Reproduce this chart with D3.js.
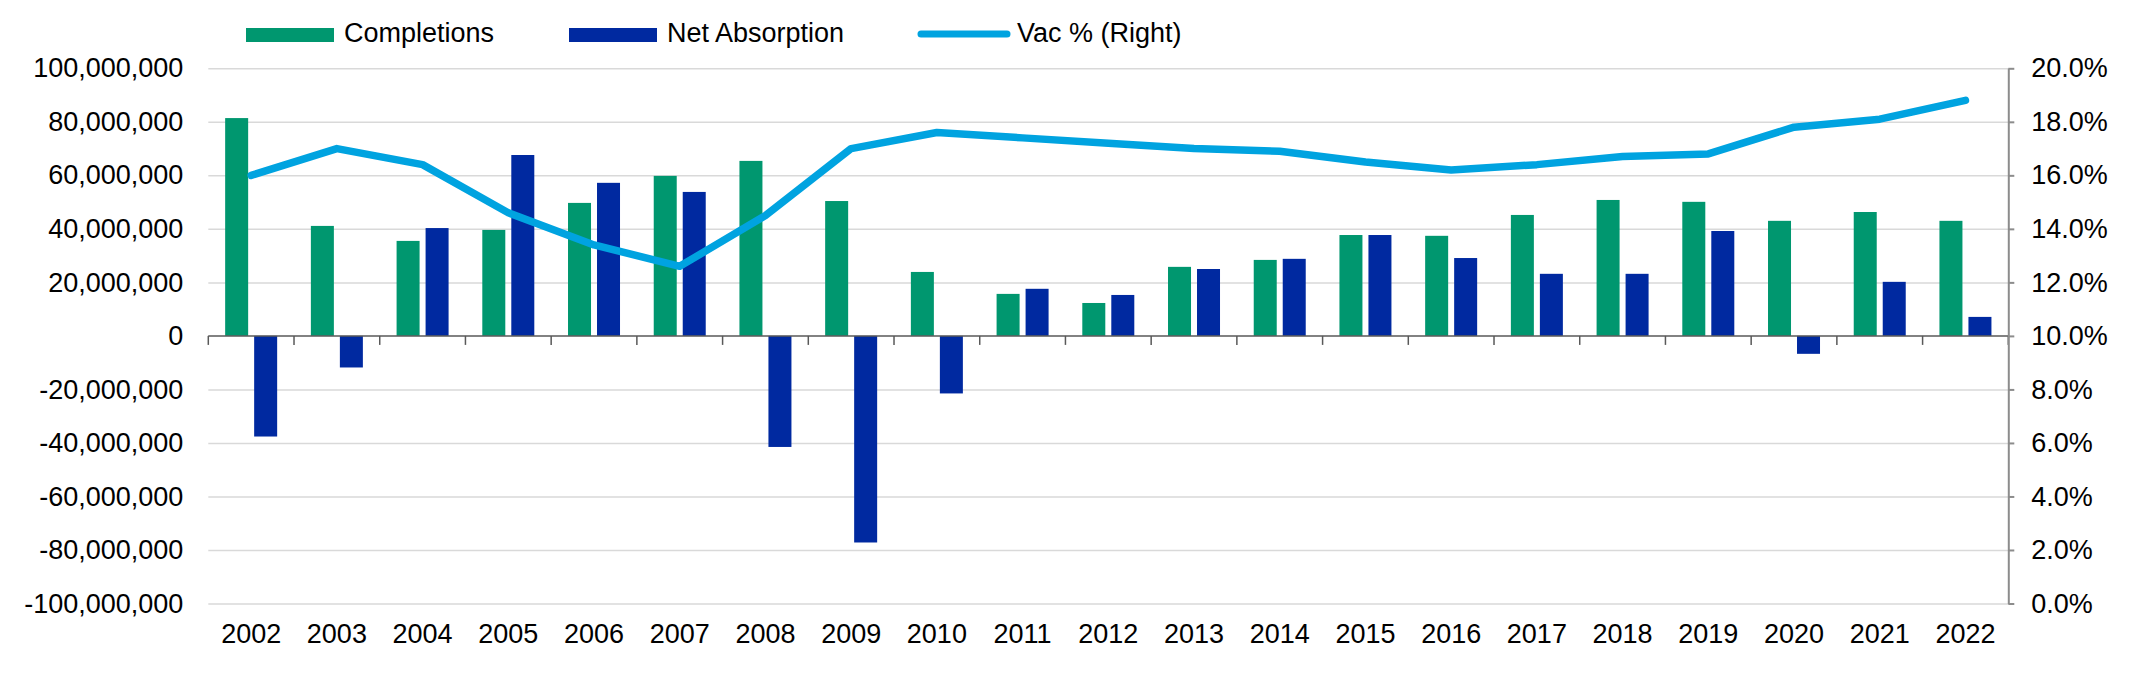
<!DOCTYPE html>
<html lang="en">
<head>
    <meta charset="UTF-8">
    <title>Completions, Net Absorption and Vacancy</title>
    <script src="https://cdn.jsdelivr.net/npm/d3@7"></script>
    <style>
        body { margin: 0; background: #fff; }
        text { font-family: "Liberation Sans", Arial, sans-serif; }
    </style>
</head>
<body>
<svg width="2145" height="673"></svg>
<script>
    const years = ["2002","2003","2004","2005","2006","2007","2008","2009","2010","2011","2012",
        "2013","2014","2015","2016","2017","2018","2019","2020","2021","2022"]
    const completions = [81400000, 41100000, 35500000, 39600000, 49700000, 59800000, 65400000,
        50400000, 23900000, 15700000, 12300000, 25800000, 28400000, 37700000, 37400000,
        45200000, 50800000, 50100000, 43000000, 46300000, 43000000]
    const netAbsorption = [-37600000, -11800000, 40300000, 67600000, 57200000, 53800000, -41500000,
        -77200000, -21500000, 17600000, 15300000, 25000000, 28800000, 37700000, 29100000,
        23200000, 23200000, 39200000, -6700000, 20200000, 7100000]
    const vacancy = [16.0, 17.0, 16.4, 14.6, 13.4, 12.6, 14.5, 17.0, 17.6, 17.4, 17.2,
        17.0, 16.9, 16.5, 16.2, 16.4, 16.7, 16.8, 17.8, 18.1, 18.8]
    const leftTicks = d3.range(-100000000, 100000001, 20000000)
    const rightTicks = d3.range(0, 20.01, 2)
    const seriesNames = ["Completions", "Net Absorption"]

    const colors = {"Completions": "#00976F", "Net Absorption": "#0029A0", "Vac % (Right)": "#00A3E0"}
    const fontSize = 27

    const plotLeft = 208.3, plotRight = 2008.3, plotTop = 68.3, plotBottom = 603.5

    const svg = d3.select("svg")

    const x0 = d3.scaleBand().domain(years).range([plotLeft, plotRight]).padding(0)
    const bw = x0.bandwidth()
    const x1 = d3.scaleBand().domain(seriesNames)
        .range([(bw - 52) / 2, (bw + 52) / 2])
        .paddingInner(6 / 29)

    const yL = d3.scaleLinear().domain([-100000000, 100000000]).range([plotBottom, plotTop])
    const yR = d3.scaleLinear().domain([0, 20]).range([plotBottom, plotTop])

    const fmt = d3.formatLocale({decimal: ".", thousands: ",", grouping: [3], currency: ["$", ""], minus: "-"}).format(",")

    // gridlines
    svg.append("g")
        .attr("transform", `translate(${plotLeft},0)`)
        .call(d3.axisLeft(yL).tickValues(leftTicks.filter(d => d !== 0)).tickSize(-(plotRight - plotLeft)).tickFormat(""))
        .call(g => g.select(".domain").remove())
        .selectAll("line").attr("stroke", "#d9d9d9").attr("stroke-width", 1.5)

    // left labels
    svg.append("g")
        .attr("transform", `translate(${plotLeft},0)`)
        .call(d3.axisLeft(yL).tickValues(leftTicks).tickSize(0).tickPadding(25).tickFormat(fmt))
        .call(g => g.select(".domain").remove())
        .selectAll("text").attr("font-size", fontSize).attr("fill", "#000")
        .attr("font-family", '"Liberation Sans", Arial, sans-serif')

    // bars
    const rows = years.map((y, i) => ({year: y, values: [
        {key: "Completions", value: completions[i]},
        {key: "Net Absorption", value: netAbsorption[i]}]}))

    svg.append("g").selectAll("g")
        .data(rows)
        .join("g")
        .attr("transform", d => `translate(${x0(d.year)},0)`)
        .selectAll("rect")
        .data(d => d.values)
        .join("rect")
        .attr("x", d => x1(d.key))
        .attr("width", x1.bandwidth())
        .attr("y", d => yL(Math.max(0, d.value)))
        .attr("height", d => Math.abs(yL(d.value) - yL(0)))
        .attr("fill", d => colors[d.key])

    // zero line with category ticks
    const zero = svg.append("g")
    zero.append("line")
        .attr("x1", plotLeft).attr("x2", plotRight)
        .attr("y1", yL(0)).attr("y2", yL(0))
        .attr("stroke", "#595959").attr("stroke-width", 1.5)
    zero.selectAll(".tk")
        .data(years.map(d => x0(d)).concat([plotRight]))
        .join("line")
        .attr("class", "tk")
        .attr("x1", d => d).attr("x2", d => d)
        .attr("y1", yL(0)).attr("y2", yL(0) + 9)
        .attr("stroke", "#595959").attr("stroke-width", 1.5)

    // year labels
    svg.append("g")
        .attr("transform", `translate(0,${plotBottom})`)
        .call(d3.axisBottom(x0).tickSize(0).tickPadding(20))
        .call(g => g.select(".domain").remove())
        .selectAll("text").attr("font-size", fontSize).attr("fill", "#000")
        .attr("font-family", '"Liberation Sans", Arial, sans-serif')

    // right axis
    svg.append("g")
        .attr("transform", `translate(${plotRight},0)`)
        .call(d3.axisRight(yR).tickValues(rightTicks).tickSize(6).tickSizeOuter(0).tickPadding(17)
            .tickFormat(d => d3.format(".1f")(d) + "%"))
        .call(g => g.selectAll("line, .domain").attr("stroke", "#8c8c8c").attr("stroke-width", 2))
        .selectAll("text").attr("font-size", fontSize).attr("fill", "#000")
        .attr("font-family", '"Liberation Sans", Arial, sans-serif')

    // vacancy line
    const line = d3.line()
        .x((d, i) => x0(years[i]) + bw / 2)
        .y(d => yR(d))

    svg.append("path")
        .datum(vacancy)
        .attr("d", line)
        .attr("fill", "none")
        .attr("stroke", colors["Vac % (Right)"])
        .attr("stroke-width", 7.5)
        .attr("stroke-linecap", "round")
        .attr("stroke-linejoin", "round")

    // legend
    const legendItems = [
        {name: "Completions", type: "bar", x: 246},
        {name: "Net Absorption", type: "bar", x: 569},
        {name: "Vac % (Right)", type: "line", x: 917}]

    const lg = svg.append("g").selectAll("g")
        .data(legendItems)
        .join("g")
        .attr("transform", d => `translate(${d.x},0)`)

    lg.filter(d => d.type === "bar").append("rect")
        .attr("x", 0).attr("y", 28).attr("width", 88).attr("height", 14)
        .attr("fill", d => colors[d.name])
    lg.filter(d => d.type === "line").append("line")
        .attr("x1", 4).attr("x2", 90).attr("y1", 34).attr("y2", 34)
        .attr("stroke", d => colors[d.name]).attr("stroke-width", 7)
        .attr("stroke-linecap", "round")
    lg.append("text")
        .attr("x", d => d.type === "bar" ? 98 : 100)
        .attr("y", 42)
        .attr("font-size", fontSize)
        .attr("fill", "#000")
        .text(d => d.name)
</script>
</body>
</html>
